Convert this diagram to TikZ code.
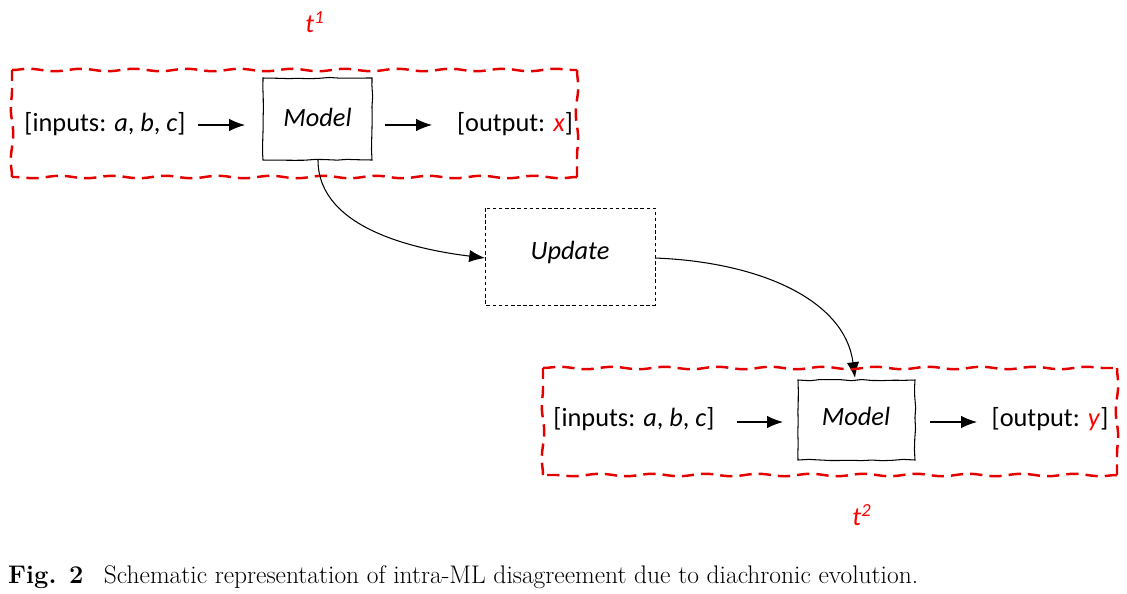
\documentclass[tikz,border=0pt]{standalone}
\usepackage{fontspec}
\setmainfont{Carlito}
\newfontfamily\lmr{Latin Modern Roman}
\usetikzlibrary{decorations.pathmorphing,arrows.meta}
\begin{document}
\begin{tikzpicture}[x=0.02cm,y=-0.02cm,
  frame/.style={draw=red!90!black,line width=1.4pt,dash pattern=on 7pt off 4pt,decorate,decoration={snake,amplitude=0.7pt,segment length=30pt}},
  modelbox/.style={draw,line width=0.6pt,decorate,decoration={random steps,segment length=6pt,amplitude=0.4pt}},
  txt/.style={font=\fontsize{15}{17}\selectfont},
  arr/.style={-{Latex[length=9pt,width=7pt]},line width=0.6pt}]
\useasboundingbox (0,0) rectangle (1127,593);
\node[text=red,font=\fontsize{15}{17}\selectfont\itshape] (t1) at (315,22) {t\textsuperscript{1}};
\draw[frame] (12,70) -- (577,70);
\draw[frame] (577,70) -- (577,177);
\draw[frame] (577,177) -- (12,177);
\draw[frame] (12,177) -- (12,70);
\draw[modelbox] (263,78) rectangle (372,160);
\node[txt] (m1) at (317.5,117) {\itshape Model};
\coordinate (m1b) at (318,160);
\node[txt] (i1) at (105,124) {[inputs: \textit{a}, \textit{b}, \textit{c}]};
\coordinate (a1s) at (198,125); \coordinate (a1e) at (245,125);
\draw[arr] (a1s) -- (a1e);
\coordinate (a2s) at (385,125); \coordinate (a2e) at (432,125);
\draw[arr] (a2s) -- (a2e);
\node[txt] (o1) at (515,124) {[output: \textcolor{red}{\textit{x}}]};
\draw[line width=0.5pt,dash pattern=on 2pt off 1.5pt] (485,208) rectangle (655,305);
\node[txt] (up) at (570,252) {\itshape Update};
\coordinate (upl) at (485,258); \coordinate (upr) at (655,258);
\draw[arr] (m1b) .. controls (318,230) and (420,250) .. (upl);
\coordinate (m2t) at (855,378);
\draw[arr] (upr) .. controls (760,262) and (845,300) .. (m2t);
\draw[frame] (543,368) -- (1117,368);
\draw[frame] (1117,368) -- (1117,475);
\draw[frame] (1117,475) -- (543,475);
\draw[frame] (543,475) -- (543,368);
\draw[modelbox] (798,380) rectangle (915,460);
\node[txt] (m2) at (856,416) {\itshape Model};
\node[txt] (i2) at (634,419) {[inputs: \textit{a}, \textit{b}, \textit{c}]};
\coordinate (b1s) at (737,422); \coordinate (b1e) at (783,422);
\draw[arr] (b1s) -- (b1e);
\coordinate (b2s) at (930,422); \coordinate (b2e) at (977,422);
\draw[arr] (b2s) -- (b2e);
\node[txt] (o2) at (1050,419) {[output: \textcolor{red}{\textit{y}}]};
\node[text=red,font=\fontsize{15}{17}\selectfont\itshape] (t2) at (862,515) {t\textsuperscript{2}};
\node[anchor=west,font=\lmr\fontsize{14.5}{16}\selectfont] (cap) at (2,577) {\textbf{Fig. 2}\hspace{0.8em}Schematic representation of intra-ML disagreement due to diachronic evolution.};
\end{tikzpicture}
\end{document}
